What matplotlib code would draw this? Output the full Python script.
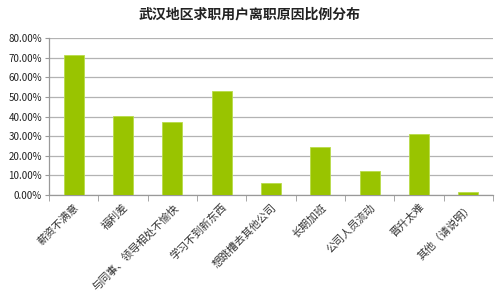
import matplotlib
matplotlib.use("Agg")
import matplotlib.pyplot as plt
from matplotlib.ticker import PercentFormatter
import numpy as np

plt.rcParams['font.family'] = ['Noto Sans CJK SC', 'DejaVu Sans']

categories = ["薪资不满意", "福利差", "与同事、领导相处不愉快", "学习不到新东西",
              "想跳槽去其他公司", "长期加班", "公司人员流动", "晋升太难", "其他（请说明）"]
values = [71.5, 40.4, 37.2, 53.0, 6.1, 24.3, 12.2, 30.9, 1.4]
yticks = [0, 10, 20, 30, 40, 50, 60, 70, 80]

fig = plt.figure(figsize=(5, 2.92), dpi=100)
ax = fig.add_axes([0.098, 0.332, 0.888, 0.538])

x = np.arange(len(categories))
ax.bar(x, values, width=0.4, color="#99c400", edgecolor="#b8dc4a", linewidth=0.6, zorder=3)

ax.set_xlim(-0.5, len(categories) - 0.5)
ax.set_ylim(0, 80)
ax.set_yticks(yticks)
ax.yaxis.set_major_formatter(PercentFormatter(decimals=2))
ax.grid(axis='y', color="#b3b3b3", linewidth=0.9, zorder=0)

ax.set_xticks(x)
ax.set_xticklabels(categories, rotation=45, ha='right', rotation_mode='anchor', fontsize=7.7, color="#333333")
ax.set_xticks(np.arange(len(categories) + 1) - 0.5, minor=True)
ax.tick_params(axis='x', which='major', length=0, pad=5)
ax.tick_params(axis='x', which='minor', length=4, color="#999999", direction='out')
ax.tick_params(axis='y', length=3, color="#999999", labelsize=7, labelcolor="#222222", pad=2)

for s in ['top', 'right']:
    ax.spines[s].set_visible(False)
for s in ['left', 'bottom']:
    ax.spines[s].set_color("#999999")
    ax.spines[s].set_linewidth(0.9)

fig.text(0.5, 0.952, "武汉地区求职用户离职原因比例分布", ha='center', va='center',
         fontsize=10, fontweight='bold', color="#222222")

fig.savefig("out.png", dpi=100)
